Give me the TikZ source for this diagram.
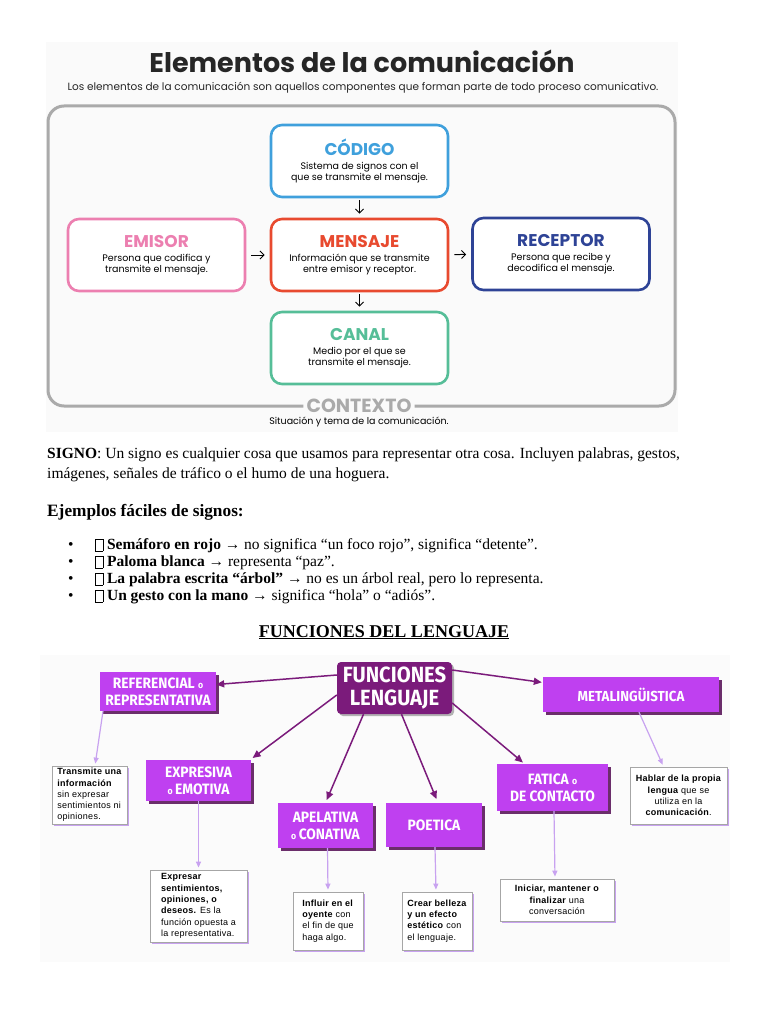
\documentclass[tikz,border=0pt]{standalone}
\usepackage{fontspec}
\setmainfont{Liberation Serif}
\newfontfamily\pop{Poppins}
\newfontfamily\tech[FakeStretch=0.92]{Fira Sans}
\newfontfamily\arial[LetterSpace=3]{Liberation Sans}
\usetikzlibrary{arrows.meta,shadows,calc}
\definecolor{ccod}{HTML}{3FA0DC}
\definecolor{cemi}{HTML}{EC7FB0}
\definecolor{cmen}{HTML}{E84A2F}
\definecolor{crec}{HTML}{2E4396}
\definecolor{ccan}{HTML}{56BE98}
\definecolor{ctx}{HTML}{AAAAAA}
\definecolor{fpurple}{HTML}{BF40F0}
\definecolor{fshadow}{HTML}{6B2E6B}
\definecolor{dpurple}{HTML}{7B1B7B}
\definecolor{lpurple}{HTML}{C8A2F0}
\newcommand\lilo{{\fontsize{9.5}{9.5}\selectfont o}}
\newcommand\tofu{\raisebox{-1.5pt}{\setlength{\fboxrule}{0.5pt}\setlength{\fboxsep}{0pt}\fbox{\rule{0pt}{11pt}\hspace{7pt}}}}
\begin{document}
\begin{tikzpicture}[x=1pt,y=-1pt,
  ebox/.style={draw=#1, line width=2.6pt, rounded corners=11pt, minimum width=177pt, minimum height=72pt, fill=white, align=center, inner sep=0pt, font=\pop\fontsize{9.5}{11}\selectfont},
  flecha/.style={-{Straight Barb[length=4pt,width=8pt]}, line width=1pt, black},
  func/.style={fill=fpurple, text=white, align=center, inner sep=0pt, drop shadow={fill=fshadow, shadow xshift=2.5pt, shadow yshift=-2.5pt, opacity=1}, font=\tech\bfseries\fontsize{15}{17}\selectfont},
  desc/.style={draw=gray!70, line width=0.8pt, fill=white, inner sep=0pt, drop shadow={fill=lpurple, shadow xshift=2pt, shadow yshift=-2pt, opacity=1}, font=\arial\fontsize{9}{11.3}\selectfont},
  dark/.style={-{Triangle[length=8pt,width=7pt]}, line width=1.5pt, dpurple},
  light/.style={-{Triangle[length=6pt,width=5pt]}, line width=1.2pt, lpurple},
  body/.style={anchor=base west, inner sep=0pt, font=\fontsize{15.5}{17}\selectfont},
]
\useasboundingbox (0,0) rectangle (768,1024);
\fill[white] (0,0) rectangle (768,1024);
% ---------- top diagram ----------
\fill[gray!4] (46,42) rectangle (678,432);
\node[font=\pop\bfseries\fontsize{27}{27}\selectfont, text=black!85] (titulo) at (362,61) {Elementos de la comunicación};
\node[font=\pop\fontsize{10.5}{10.5}\selectfont, text=black!85] (subt) at (363,88) {Los elementos de la comunicación son aquellos componentes que forman parte de todo proceso comunicativo.};
\node[text=ctx, font=\pop\bfseries\fontsize{19}{19}\selectfont, inner xsep=3pt] (contexto) at (359,406) {CONTEXTO};
\draw[ctx, line width=3pt, rounded corners=16pt] (contexto.west) -- (48,406) -- (48,106) -- (675,106) -- (675,406) -- (contexto.east);
\node[font=\pop\fontsize{9.5}{11}\selectfont] (sit) at (359,422) {Situación y tema de la comunicación.};

\node[ebox=ccod] (codigo) at (359.5,161) {{\fontsize{17}{20}\selectfont\bfseries\color{ccod}CÓDIGO}\\[3pt]Sistema de signos con el\\que se transmite el mensaje.};
\node[ebox=cemi] (emisor) at (156.5,255) {{\fontsize{17}{20}\selectfont\bfseries\color{cemi}EMISOR}\\[3pt]Persona que codifica y\\transmite el mensaje.};
\node[ebox=cmen] (mensaje) at (359.5,255) {{\fontsize{17}{20}\selectfont\bfseries\color{cmen}MENSAJE}\\[3pt]Información que se transmite\\entre emisor y receptor.};
\node[ebox=crec] (receptor) at (561,254) {{\fontsize{17}{20}\selectfont\bfseries\color{crec}RECEPTOR}\\[3pt]Persona que recibe y\\decodifica el mensaje.};
\node[ebox=ccan] (canal) at (359.5,348) {{\fontsize{17}{20}\selectfont\bfseries\color{ccan}CANAL}\\[3pt]Medio por el que se\\transmite el mensaje.};
\draw[flecha, shorten <=2pt, shorten >=4pt] (codigo) -- (mensaje);
\draw[flecha, shorten <=5pt, shorten >=5pt] (emisor) -- (mensaje);
\draw[flecha, shorten <=5pt, shorten >=5pt] (mensaje) -- (receptor);
\draw[flecha, shorten <=2pt, shorten >=4pt] (mensaje) -- (canal);

% ---------- text ----------
\node[body] (signo1) at (47,458) {\textbf{SIGNO}: Un signo es cualquier cosa que usamos para representar otra cosa. Incluyen palabras, gestos,};
\node[body] (signo2) at (47,478) {imágenes, señales de tráfico o el humo de una hoguera.};
\node[body, font=\fontsize{17.3}{20}\selectfont\bfseries] (ejemplos) at (47,516) {Ejemplos fáciles de signos:};
\node[body] (p1) at (68,549) {•};
\node[body] (b1) at (95,549) {\tofu\ \textbf{Semáforo en rojo} → no significa “un foco rojo”, significa “detente”.};
\node[body] (p2) at (68,566) {•};
\node[body] (b2) at (95,566) {\tofu\ \textbf{Paloma blanca} → representa “paz”.};
\node[body] (p3) at (68,583) {•};
\node[body] (b3) at (95,583) {\tofu\ \textbf{La palabra escrita “árbol”} → no es un árbol real, pero lo representa.};
\node[body] (p4) at (68,600) {•};
\node[body] (b4) at (95,600) {\tofu\ \textbf{Un gesto con la mano} → significa “hola” o “adiós”.};
\node[anchor=base, inner sep=0pt, font=\fontsize{18}{20}\selectfont\bfseries] (funtit) at (384,637) {\underline{FUNCIONES DEL LENGUAJE}};

% ---------- mind map ----------
\fill[gray!3] (40,655) rectangle (730,962);
\node[fill=dpurple, text=white, rounded corners=4pt, minimum width=115pt, minimum height=52pt, inner sep=0pt, align=center, font=\tech\bfseries\fontsize{22}{23}\selectfont, drop shadow={fill=gray!60, shadow xshift=2pt, shadow yshift=-2pt, opacity=1}] (funciones) at (394.5,688) {FUNCIONES\\LENGUAJE};
\node[func, minimum width=116pt, minimum height=39pt] (referencial) at (158,691.5) {REFERENCIAL \lilo\\REPRESENTATIVA};
\node[func, minimum width=176pt, minimum height=35pt, font=\tech\bfseries\fontsize{14.5}{16}\selectfont] (metaling) at (631,694.5) {METALINGÜISTICA};
\node[func, minimum width=105pt, minimum height=41pt] (expresiva) at (198.5,780.5) {EXPRESIVA\\\lilo\,EMOTIVA};
\node[func, minimum width=95pt, minimum height=45pt] (apelativa) at (325.5,825.5) {APELATIVA\\\lilo\,CONATIVA};
\node[func, minimum width=96pt, minimum height=44pt] (poetica) at (434,825) {POETICA};
\node[func, minimum width=111pt, minimum height=47pt] (fatica) at (552.5,787.5) {FATICA \lilo\\DE CONTACTO};

\node[desc, minimum width=75pt, minimum height=58pt, align=left] (dref) at (89.5,795) {\textbf{Transmite una}\\\textbf{información}\\sin expresar\\sentimientos ni\\opiniones.};
\node[desc, minimum width=97pt, minimum height=57pt, align=center] (dmeta) at (678.5,795.5) {\textbf{Hablar de la propia}\\\textbf{lengua} que se\\utiliza en la\\\textbf{comunicación}.};
\node[desc, minimum width=97pt, minimum height=72pt, align=left] (dexp) at (198.5,906) {\textbf{Expresar}\\\textbf{sentimientos,}\\\textbf{opiniones, o}\\\textbf{deseos.} Es la\\función opuesta a\\la representativa.};
\node[desc, minimum width=70pt, minimum height=58pt, align=left] (dape) at (328,921) {\textbf{Influir en el}\\\textbf{oyente} con\\el fin de que\\haga algo.};
\node[desc, minimum width=70pt, minimum height=58pt, align=left] (dpoe) at (437,921) {\textbf{Crear belleza}\\\textbf{y un efecto}\\\textbf{estético} con\\el lenguaje.};
\node[desc, minimum width=114pt, minimum height=42pt, align=center] (dfat) at (557,900) {\textbf{Iniciar, mantener o}\\\textbf{finalizar} una\\conversación};

\draw[dark] ([yshift=13pt]funciones.west) -- ([yshift=7pt]referencial.east);
\draw[dark, shorten >=3pt] ([yshift=-7pt]funciones.west) -- ([xshift=-1pt]expresiva.north east);
\draw[dark, shorten >=3pt] ([xshift=-31pt]funciones.south) -- (apelativa.north);
\draw[dark, shorten >=4pt] ([xshift=7pt]funciones.south) -- ([xshift=4pt]poetica.north);
\draw[dark, shorten >=2pt] ([yshift=-15pt]funciones.east) -- ([xshift=-28pt]fatica.north);
\draw[dark, shorten >=1pt] ([yshift=18pt]funciones.east) -- ([yshift=12pt]metaling.west);

\draw[light, shorten >=2pt] ([xshift=-55pt]referencial.south) -- ([xshift=5.5pt]dref.north);
\draw[light, shorten >=2pt] (expresiva.south) -- (dexp.north);
\draw[light, shorten >=2pt] ([xshift=2pt]apelativa.south) -- (dape.north);
\draw[light, shorten >=2pt] ([xshift=1pt]poetica.south) -- ([xshift=-1pt]dpoe.north);
\draw[light, shorten >=2pt] ([xshift=1.5pt]fatica.south) -- ([xshift=-2pt]dfat.north);
\draw[light, shorten >=2pt] ([xshift=8pt]metaling.south) -- ([xshift=-15pt]dmeta.north);
\end{tikzpicture}
\end{document}
